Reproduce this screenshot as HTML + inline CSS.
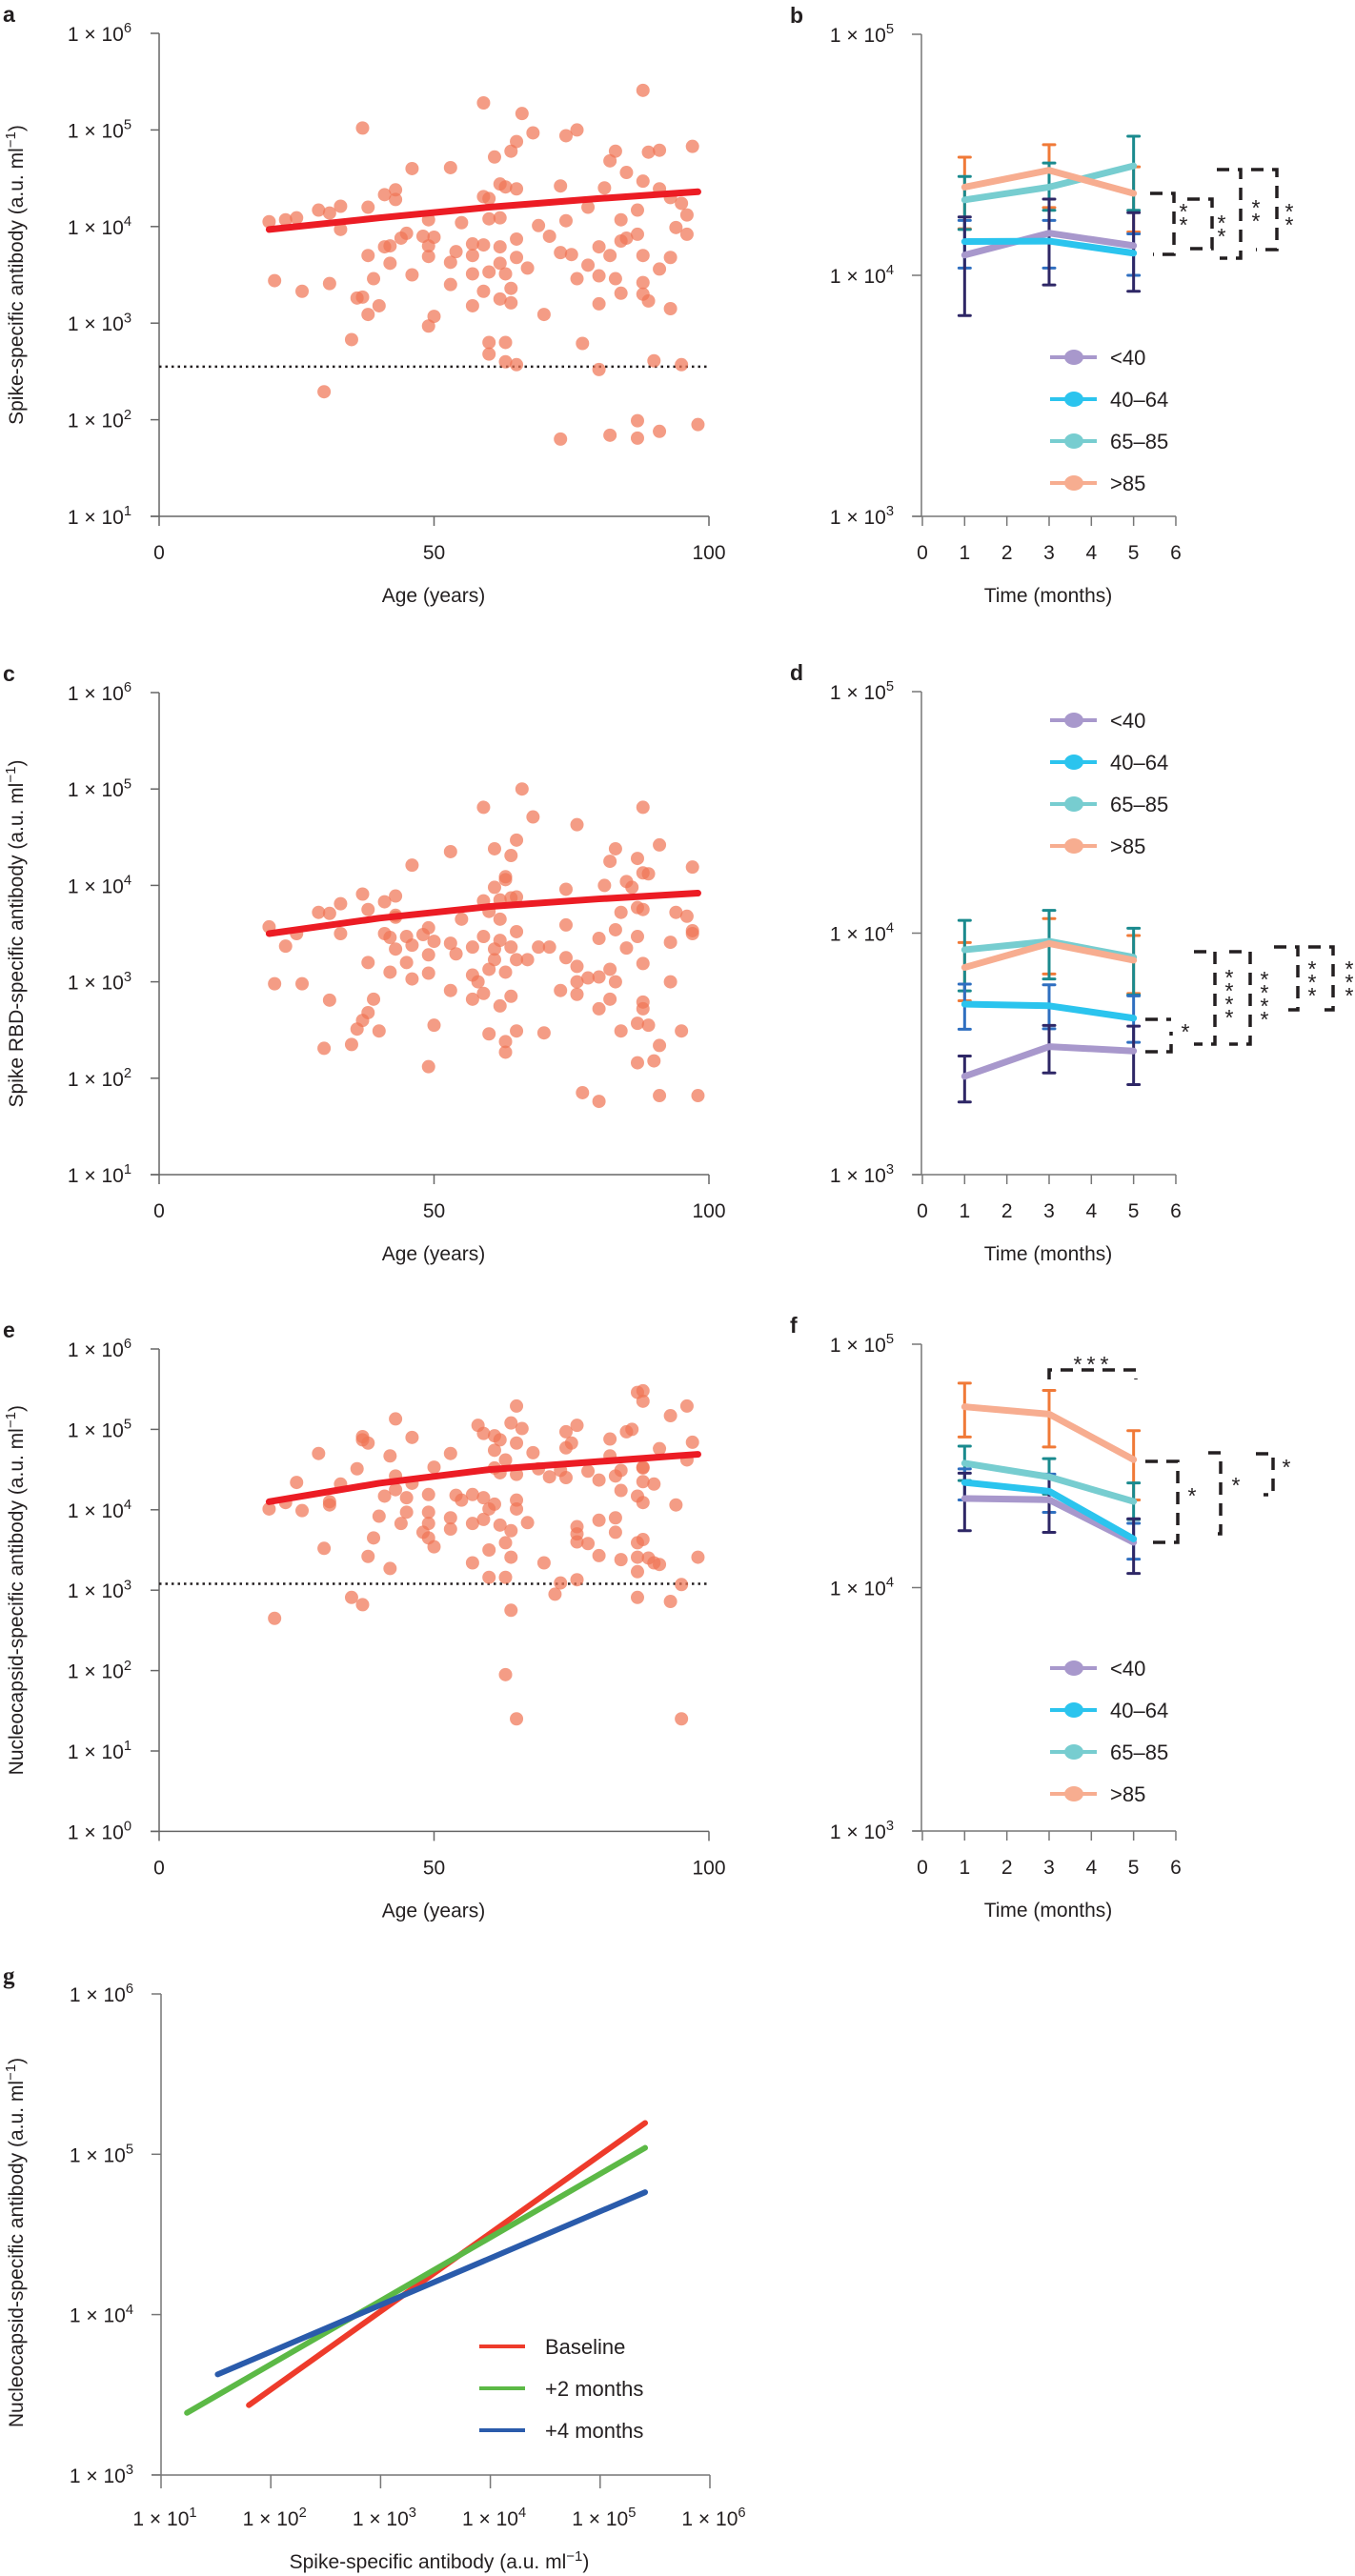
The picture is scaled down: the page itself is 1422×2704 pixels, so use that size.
<!DOCTYPE html>
<html><head><meta charset="utf-8"><style>
body{margin:0;background:#fff}
svg{display:block;font-family:"Liberation Sans",Arial,sans-serif}
</style></head><body>
<svg id="fig" width="1422" height="2704" viewBox="0 0 1422 2704" xmlns="http://www.w3.org/2000/svg">
<rect width="1422" height="2704" fill="#fff"/>
<g id="root"></g>
</svg>
<script>
// ---------- DATA ----------
// panel a: age vs log10 spike antibody
const ageA=[88,59,66,37,68,76,74,65,97,83,91,89,61,64,82,46,53,85,88,73,81,62,63,65,43,41,59,60,91,93,95,33,29,31,38,20,23,25,33,43,49,55,60,62,69,74,78,84,87,96,96,94,45,44,48,50,42,41,49,54,57,59,62,65,71,80,84,85,87,38,49,57,65,73,75,82,88,93,42,53,62,67,78,91,21,26,31,39,46,57,60,63,76,80,83,53,59,64,88,36,37,84,88,89,40,57,62,64,80,93,38,70,50,49,35,60,63,77,60,63,65,90,95,80,30,87,98,91,82,87,73];
const logA=[5.41,5.28,5.17,5.02,4.97,5.0,4.94,4.88,4.83,4.78,4.79,4.77,4.72,4.78,4.68,4.60,4.61,4.56,4.47,4.42,4.40,4.44,4.41,4.39,4.38,4.33,4.31,4.29,4.39,4.30,4.24,4.21,4.17,4.14,4.20,4.05,4.07,4.09,3.97,4.28,4.07,4.04,4.08,4.09,4.01,4.06,4.2,4.07,4.17,4.12,3.92,3.99,3.93,3.88,3.9,3.89,3.80,3.79,3.8,3.74,3.82,3.81,3.79,3.87,3.90,3.79,3.85,3.88,3.92,3.70,3.69,3.70,3.68,3.73,3.71,3.70,3.70,3.68,3.62,3.63,3.62,3.57,3.60,3.56,3.44,3.33,3.41,3.46,3.50,3.51,3.53,3.51,3.46,3.49,3.46,3.40,3.33,3.36,3.42,3.26,3.27,3.31,3.30,3.23,3.18,3.18,3.25,3.21,3.2,3.15,3.09,3.09,3.07,2.97,2.83,2.80,2.80,2.79,2.68,2.60,2.57,2.61,2.57,2.52,2.29,1.99,1.95,1.88,1.84,1.81,1.80];
const fitAgeA=[20,40,60,80,98];
const fitLogA=[3.97,4.09,4.2,4.29,4.36];
const cutoffA=2.55;
// panel c
const ageC=[66,59,88,68,76,65,61,53,83,91,64,82,87,46,97,88,89,63,63,85,81,74,86,61,43,37,64,65,62,41,59,33,29,31,38,43,60,62,74,84,88,87,94,96,20,23,25,33,41,43,49,48,50,42,45,53,55,59,62,65,64,57,61,46,69,71,80,83,87,93,97,97,54,49,43,65,67,74,76,88,85,61,60,38,45,49,42,46,57,58,63,78,80,76,82,83,21,26,93,53,59,73,76,31,39,57,64,82,80,88,88,62,38,37,36,40,50,65,70,84,87,89,95,60,63,63,30,35,91,87,90,49,77,80,91,98];
const logC=[5.0,4.81,4.81,4.71,4.63,4.47,4.38,4.35,4.38,4.42,4.31,4.25,4.28,4.21,4.19,4.13,4.12,4.09,4.06,4.04,4.0,3.96,3.98,3.98,3.89,3.91,3.87,3.88,3.85,3.83,3.84,3.81,3.72,3.71,3.75,3.69,3.73,3.65,3.59,3.72,3.75,3.77,3.72,3.68,3.57,3.37,3.50,3.5,3.5,3.67,3.56,3.49,3.42,3.46,3.47,3.40,3.65,3.47,3.43,3.52,3.36,3.36,3.34,3.38,3.36,3.36,3.45,3.54,3.47,3.41,3.53,3.5,3.29,3.28,3.34,3.23,3.23,3.25,3.16,3.19,3.35,3.23,3.13,3.2,3.2,3.09,3.10,3.03,3.07,3.0,3.1,3.04,3.05,3.0,3.13,3.0,2.98,2.98,3.0,2.91,2.88,2.91,2.87,2.81,2.82,2.82,2.85,2.82,2.72,2.79,2.72,2.75,2.68,2.6,2.51,2.49,2.55,2.49,2.47,2.49,2.57,2.55,2.49,2.46,2.38,2.27,2.31,2.35,2.34,2.16,2.18,2.12,1.85,1.76,1.82,1.82];
const fitAgeC=[20,40,60,80,98];
const fitLogC=[3.50,3.66,3.78,3.86,3.92];
// panel e
const ageE=[88,87,88,65,96,93,43,58,64,66,76,74,85,86,37,37,46,59,61,62,65,82,97,38,75,61,74,68,42,29,53,63,91,82,96,88,36,50,61,69,73,78,84,88,43,71,74,80,25,33,46,62,65,83,88,90,84,43,41,49,45,54,57,55,59,61,65,87,88,20,23,26,31,31,65,60,94,40,45,49,53,44,49,57,59,62,67,80,83,76,53,64,48,83,76,49,39,63,76,78,88,87,50,30,60,80,38,64,87,89,98,70,84,90,57,91,42,87,60,63,73,76,95,72,35,37,87,93,64,21,63,65,95];
const logE=[5.48,5.46,5.35,5.29,5.29,5.17,5.13,5.05,5.08,5.01,5.05,4.97,4.97,5.0,4.91,4.87,4.9,4.95,4.92,4.87,4.83,4.88,4.84,4.83,4.83,4.74,4.77,4.71,4.67,4.70,4.70,4.62,4.76,4.67,4.62,4.52,4.51,4.53,4.52,4.51,4.49,4.48,4.49,4.53,4.42,4.41,4.40,4.37,4.34,4.32,4.33,4.46,4.44,4.42,4.35,4.32,4.24,4.25,4.17,4.19,4.15,4.18,4.19,4.12,4.15,4.07,4.12,4.17,4.09,4.01,4.09,3.99,4.10,4.06,4.01,4.01,4.06,3.92,3.97,3.97,3.9,3.83,3.83,3.83,3.88,3.81,3.84,3.87,3.9,3.79,3.76,3.74,3.72,3.72,3.70,3.65,3.65,3.59,3.60,3.58,3.63,3.59,3.54,3.52,3.50,3.43,3.42,3.41,3.41,3.40,3.41,3.34,3.38,3.34,3.34,3.32,3.27,3.23,3.16,3.16,3.09,3.13,3.07,2.95,2.91,2.82,2.91,2.86,2.75,2.65,1.95,1.40,1.40];
const fitAgeE=[20,40,60,80,98];
const fitLogE=[4.10,4.33,4.50,4.60,4.69];
const cutoffE=3.08;
// time-course panels
const months=[1,3,5];
const groups=["<40","40–64","65–85",">85"];
// panel b (log10 means / upper / lower), order: <40, 40-64, 65-85, >85
const bMean=[[4.084,4.175,4.123],[4.14,4.142,4.092],[4.313,4.366,4.454],[4.366,4.436,4.34]];
const bUp=[[4.242,4.316,4.26],[4.228,4.228,4.172],[4.41,4.466,4.577],[4.49,4.542,4.45]];
const bLo=[[3.833,3.96,3.934],[4.03,4.03,4.0],[4.19,4.27,4.27],[4.193,4.281,4.18]];
// panel d
const dMean=[[3.407,3.53,3.512],[3.706,3.699,3.648],[3.931,3.966,3.90],[3.858,3.957,3.888]];
const dUp=[[3.491,3.618,3.615],[3.789,3.786,3.74],[4.053,4.094,4.02],[3.961,4.06,3.99]];
const dLo=[[3.301,3.421,3.373],[3.602,3.604,3.548],[3.761,3.81,3.744],[3.72,3.831,3.75]];
// panel f
const fMean=[[4.366,4.361,4.186],[4.432,4.396,4.20],[4.511,4.455,4.354],[4.743,4.713,4.526]];
const fUp=[[4.47,4.455,4.283],[4.488,4.466,4.264],[4.581,4.53,4.43],[4.84,4.81,4.645]];
const fLo=[[4.234,4.227,4.058],[4.36,4.309,4.117],[4.44,4.384,4.28],[4.619,4.578,4.36]];
// panel g: regression lines, log10 x / log10 y endpoints
const gSeries=["Baseline","+2 months","+4 months"];
const gX=[[1.8,5.41],[1.236,5.41],[1.516,5.41]];
const gY=[[3.435,5.195],[3.387,5.04],[3.627,4.763]];

// ---------- STYLE ----------
const lineCol=["#a898cc","#2bc4ee","#77cdd0","#f7ad90"];
const barCol=["#2e2766","#2f6fc0","#1a8a8e","#f07a38"];
const gCol=["#ee3b2b","#5cb946","#2a5bab"];
const NS="http://www.w3.org/2000/svg";
const root=document.getElementById('root');
function el(tag,attrs,parent){const e=document.createElementNS(NS,tag);for(const k in attrs)e.setAttribute(k,attrs[k]);(parent||root).appendChild(e);return e;}
function txt(x,y,s,size,anchor,parent){const t=el('text',{x:x,y:y,'font-size':size,'text-anchor':anchor||'start',fill:'#231f20'},parent);t.textContent=s;return t;}
function powLabel(x,y,exp,size,anchor,parent){
  const t=el('text',{x:x,y:y,'font-size':size,'text-anchor':anchor,fill:'#231f20'},parent);
  const a=document.createElementNS(NS,'tspan');a.textContent='1 × 10';t.appendChild(a);
  const b=document.createElementNS(NS,'tspan');b.setAttribute('dy',-size*0.42);b.setAttribute('font-size',size*0.7);b.textContent=exp;t.appendChild(b);
  return t;
}
function yTitle(x,y,main,parent){
  const t=el('text',{x:0,y:0,'font-size':21,'text-anchor':'middle',fill:'#231f20',transform:`translate(${x},${y}) rotate(-90)`},parent);
  const a=document.createElementNS(NS,'tspan');a.textContent=main+' (a.u. ml';t.appendChild(a);
  const b=document.createElementNS(NS,'tspan');b.setAttribute('dy',-8);b.setAttribute('font-size',15);b.textContent='−1';t.appendChild(b);
  const c=document.createElementNS(NS,'tspan');c.setAttribute('dy',8);c.textContent=')';t.appendChild(c);
  return t;
}

// ---------- SCATTER PANELS ----------
function scatterPanel(cfg){
  const g=el('g',{});
  
  
  const X=a=>167+a*5.77;
  const Y=l=>cfg.top+(cfg.maxE-l)*cfg.dec;
  const bottom=Y(cfg.minE);
  const lbl=el('text',{x:3,y:cfg.top-12,'font-size':23,'font-weight':'bold',fill:'#231f20','font-family':cfg.serif?'"Liberation Serif",serif':'"Liberation Sans",sans-serif'},g);
  lbl.textContent=cfg.letter;
  
  
  const ax=el('path',{d:`M167,${cfg.top} V${bottom} M158,${bottom} H744`,stroke:'#666',fill:'none','stroke-width':1.5},g);
  
  
  for(let e=cfg.minE;e<=cfg.maxE;e++){
    el('line',{x1:158,x2:167,y1:Y(e),y2:Y(e),stroke:'#666','stroke-width':1.5},g);
    const t=powLabel(138,Y(e)+8,String(e),21,'end',g);
    
    
  }
  [0,50,100].forEach(v=>{
    el('line',{x1:X(v),x2:X(v),y1:bottom,y2:bottom+10,stroke:'#666','stroke-width':1.5},g);
    const t=txt(X(v),bottom+45,String(v),21,'middle',g);
    
    
  });
  const xt=txt(455,bottom+90,'Age (years)',21,'middle',g);
  
  
  const yt=yTitle(24,(cfg.top+bottom)/2,cfg.ytitle,g);
  
  
  if(cfg.cutoff!==undefined){
    const c=el('line',{x1:167,x2:744,y1:Y(cfg.cutoff),y2:Y(cfg.cutoff),stroke:'#231f20','stroke-width':2.5,'stroke-dasharray':'2.5 4'},g);
    
    
  }
  for(let i=0;i<cfg.ages.length;i++){
    const d=el('ellipse',{cx:X(cfg.ages[i]),cy:Y(cfg.logs[i]),rx:7,ry:7,fill:'#f07656','fill-opacity':0.72},g);
    
    
  }
  const pts=cfg.fitA.map((a,i)=>X(a)+','+Y(cfg.fitL[i])).join(' ');
  const f=el('polyline',{points:pts,fill:'none',stroke:'#ec1c24','stroke-width':7,'stroke-linecap':'round','stroke-linejoin':'round'},g);
  
  
}
scatterPanel({name:'panel-a',letter:'a',top:35,dec:101.4,maxE:6,minE:1,ages:ageA,logs:logA,fitA:fitAgeA,fitL:fitLogA,cutoff:cutoffA,ytitle:'Spike-specific antibody'});
scatterPanel({name:'panel-c',letter:'c',top:727,dec:101.2,maxE:6,minE:1,ages:ageC,logs:logC,fitA:fitAgeC,fitL:fitLogC,ytitle:'Spike RBD-specific antibody'});
scatterPanel({name:'panel-e',letter:'e',top:1416,dec:84.4,maxE:6,minE:0,ages:ageE,logs:logE,fitA:fitAgeE,fitL:fitLogE,cutoff:cutoffE,ytitle:'Nucleocapsid-specific antibody'});

// ---------- TIME COURSE PANELS ----------
function timePanel(cfg){
  const g=el('g',{});
  
  
  const X=m=>968+m*44.33;
  const Y=l=>cfg.top+(5-l)*cfg.dec;
  const bottom=Y(3);
  const lbl=el('text',{x:829,y:cfg.top-12,'font-size':23,'font-weight':'bold',fill:'#231f20'},g);
  lbl.textContent=cfg.letter;
  
  
  const ax=el('path',{d:`M967,${cfg.top} V${bottom} M958,${bottom} H1234`,stroke:'#777',fill:'none','stroke-width':1.5},g);
  
  
  for(let e=3;e<=5;e++){
    el('line',{x1:957,x2:967,y1:Y(e),y2:Y(e),stroke:'#777','stroke-width':1.5},g);
    const t=powLabel(938,Y(e)+8,String(e),21,'end',g);
    
    
  }
  for(let m=0;m<=6;m++){
    el('line',{x1:X(m),x2:X(m),y1:bottom,y2:bottom+10,stroke:'#777','stroke-width':1.5},g);
    const t=txt(X(m),bottom+45,String(m),21,'middle',g);
    
    
  }
  const xt=txt(1100,bottom+90,'Time (months)',21,'middle',g);
  
  
  for(let s=3;s>=0;s--){
    for(let i=0;i<months.length;i++){
      const x=X(months[i]);
      const eb=el('path',{d:`M${x},${Y(cfg.up[s][i])} V${Y(cfg.lo[s][i])} M${x-6},${Y(cfg.up[s][i])} H${x+6} M${x-6},${Y(cfg.lo[s][i])} H${x+6}`,stroke:barCol[s],'stroke-width':3,fill:'none','stroke-linecap':'round'},g);
      
      
    }
  }
  for(let s=0;s<4;s++){
    const pts=months.map((m,i)=>X(m)+','+Y(cfg.mean[s][i])).join(' ');
    const l=el('polyline',{points:pts,fill:'none',stroke:lineCol[s],'stroke-width':7,'stroke-linecap':'round','stroke-linejoin':'round'},g);
    
    
  }
  groups.forEach((name,s)=>{
    const y=cfg.legY+s*44;
    const lg=el('g',{},g);
    
    
    el('line',{x1:1102,x2:1151,y1:y,y2:y,stroke:lineCol[s],'stroke-width':4},lg);
    el('ellipse',{cx:1127,cy:y,rx:10,ry:8,fill:lineCol[s]},lg);
    txt(1165,y+8,name,22,'start',lg);
  });
  const br=el('g',{fill:'none',stroke:'#231f20','stroke-width':3.5,'stroke-dasharray':'13 9'},g);
  
  
  cfg.brackets.forEach(d=>el('path',{d:d},br));
  cfg.stars.forEach(st=>{
    for(let k=0;k<st[2];k++){
      const t=txt(st[0],st[1]+k*14+12,'*',23,'middle',g);
      
      
    }
  });
}
timePanel({name:'panel-b',letter:'b',top:36,dec:253,mean:bMean,up:bUp,lo:bLo,legY:375,
 brackets:['M1207,203 H1232 V267 H1210','M1246,209 H1272 V261 H1246','M1277,178 H1302 V271 H1280','M1313,178 H1340 V262 H1318'],
 stars:[[1242,218,2],[1282,230,2],[1318,214,2],[1353,218,2]]});
timePanel({name:'panel-d',letter:'d',top:726,dec:253.5,mean:dMean,up:dUp,lo:dLo,legY:756,
 brackets:['M1202,1070 H1229 M1202,1104 H1229 V1083','M1253,999 H1275 V1096 H1253','M1290,999 H1312 V1096 H1290','M1337,994 H1362 V1060 H1345','M1373,994 H1399 V1060 H1385'],
 stars:[[1244,1079,1],[1290,1022,4],[1327,1024,4],[1377,1013,3],[1416,1013,3]]});
timePanel({name:'panel-f',letter:'f',top:1411,dec:255.5,mean:fMean,up:fUp,lo:fLo,legY:1751,
 brackets:['M1101,1448 V1438 H1192 V1448','M1202,1534 H1236 V1619 H1209','M1268,1525 H1281 V1610 H1270','M1318,1526 H1336 V1569 H1326'],
 stars:[[1251,1566,1],[1297,1555,1],[1350,1536,1]]});
// horizontal *** in f
[1131,1145,1159].forEach(x=>{
  const t=txt(x,1440,'*',23,'middle');
  
  
});

// ---------- PANEL G ----------
(function(){
  const g=el('g',{});
  
  
  const X=l=>169+(l-1)*115.2;
  const Y=l=>2093+(6-l)*168.3;
  const lbl=el('text',{x:3,y:2082,'font-size':25,'font-weight':'bold',fill:'#231f20','font-family':'"Liberation Serif",serif'},g);
  lbl.textContent='g';
  
  
  const ax=el('path',{d:`M169,2093 V2598 M159,2598 H745`,stroke:'#777',fill:'none','stroke-width':1.5},g);
  
  
  for(let e=3;e<=6;e++){
    el('line',{x1:159,x2:169,y1:Y(e),y2:Y(e),stroke:'#777','stroke-width':1.5},g);
    const t=powLabel(140,Y(e)+8,String(e),21,'end',g);
    
    
  }
  for(let e=1;e<=6;e++){
    el('line',{x1:X(e),x2:X(e),y1:2598,y2:2612,stroke:'#777','stroke-width':1.5},g);
    const t=powLabel(X(e)+4,2651,String(e),21,'middle',g);
    
    
  }
  const xt=el('text',{x:461,y:2696,'font-size':21,'text-anchor':'middle',fill:'#231f20'},g);
  xt.innerHTML='Spike-specific antibody (a.u. ml<tspan dy="-8" font-size="15">−1</tspan><tspan dy="8">)</tspan>';
  
  
  const yt=yTitle(24,2354,'Nucleocapsid-specific antibody',g);
  
  
  gSeries.forEach((name,s)=>{
    const l=el('line',{x1:X(gX[s][0]),y1:Y(gY[s][0]),x2:X(gX[s][1]),y2:Y(gY[s][1]),stroke:gCol[s],'stroke-width':6,'stroke-linecap':'round'},g);
    
    
  });
  [2,1,0].forEach(s=>{});
  gSeries.forEach((name,s)=>{
    const y=2463+s*44;
    const lg=el('g',{},g);
    
    
    el('line',{x1:503,x2:551,y1:y,y2:y,stroke:gCol[s],'stroke-width':4},lg);
    txt(572,y+8,name,22,'start',lg);
  });
})();
</script>
</body></html>
